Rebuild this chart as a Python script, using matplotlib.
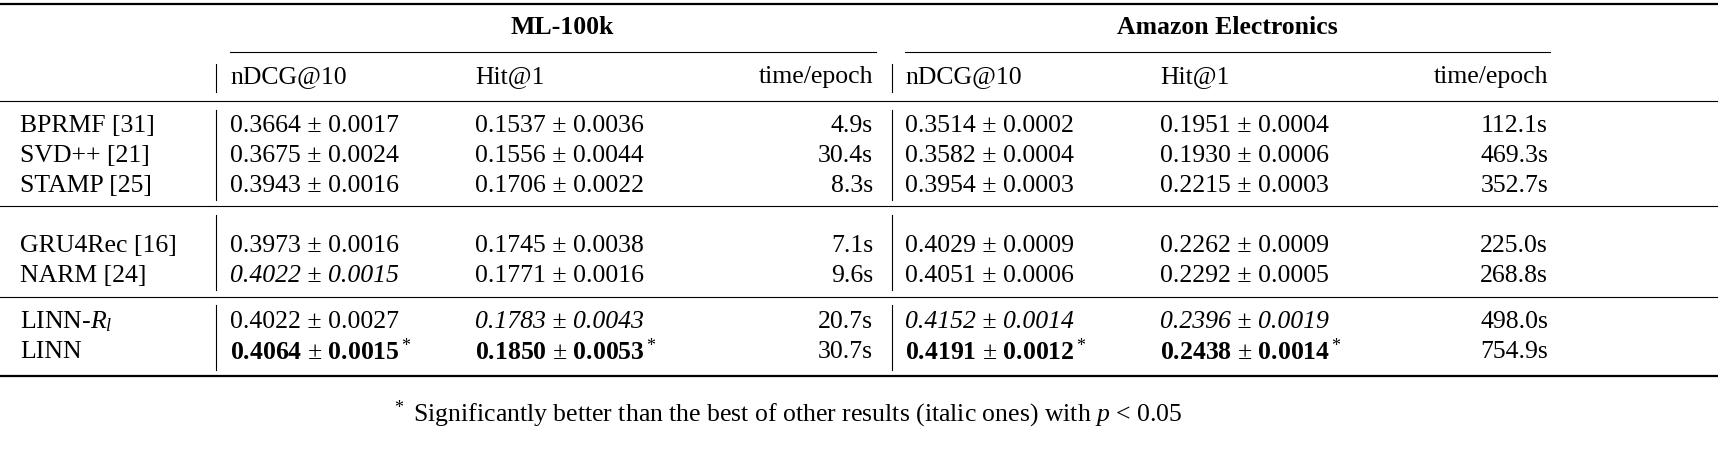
import matplotlib.pyplot as plt

plt.rcParams['font.family'] = 'Liberation Serif'
plt.rcParams['mathtext.fontset'] = 'custom'
plt.rcParams['mathtext.rm'] = 'Liberation Serif'
plt.rcParams['mathtext.it'] = 'Liberation Serif:italic'
plt.rcParams['mathtext.bf'] = 'Liberation Serif:bold'

methods = ["BPRMF [31]", "SVD++ [21]", "STAMP [25]", "GRU4Rec [16]", "NARM [24]",
           "LINN-$R_l$", "LINN"]
ml_ndcg = ["0.3664", "0.3675", "0.3943", "0.3973", "0.4022", "0.4022", "0.4064"]
ml_ndcg_sd = ["0.0017", "0.0024", "0.0016", "0.0016", "0.0015", "0.0027", "0.0015"]
ml_hit = ["0.1537", "0.1556", "0.1706", "0.1745", "0.1771", "0.1783", "0.1850"]
ml_hit_sd = ["0.0036", "0.0044", "0.0022", "0.0038", "0.0016", "0.0043", "0.0053"]
ml_time = ["4.9s", "30.4s", "8.3s", "7.1s", "9.6s", "20.7s", "30.7s"]
az_ndcg = ["0.3514", "0.3582", "0.3954", "0.4029", "0.4051", "0.4152", "0.4191"]
az_ndcg_sd = ["0.0002", "0.0004", "0.0003", "0.0009", "0.0006", "0.0014", "0.0012"]
az_hit = ["0.1951", "0.1930", "0.2215", "0.2262", "0.2292", "0.2396", "0.2438"]
az_hit_sd = ["0.0004", "0.0006", "0.0003", "0.0009", "0.0005", "0.0019", "0.0014"]
az_time = ["112.1s", "469.3s", "352.7s", "225.0s", "268.8s", "498.0s", "754.9s"]
# style per metric column: n = normal, i = italic (second best), b = best
styles = [
    ["n", "n", "n", "n"], ["n", "n", "n", "n"], ["n", "n", "n", "n"],
    ["n", "n", "n", "n"], ["i", "n", "n", "n"], ["n", "i", "i", "i"],
    ["b", "b", "b", "b"],
]

fig = plt.figure(figsize=(17.18, 4.75), dpi=100)
ax = fig.add_axes([0, 0, 1, 1])
ax.set_xlim(0, 1718)
ax.set_ylim(475, 0)
ax.axis("off")
fs = 18.5


def cell(x, y, v, sd, st):
    if st == "i":
        ax.text(x, y, f"{v} ± {sd}", fontsize=fs, style="italic", va="center")
    elif st == "b":
        ax.text(x, y, rf"$\mathbf{{{v}}}$ ± $\mathbf{{{sd}}}^*$", fontsize=fs, va="center")
    else:
        ax.text(x, y, f"{v} ± {sd}", fontsize=fs, va="center")


# rules
ax.plot([0, 1718], [4, 4], color="black", lw=1.6)
ax.plot([230, 876], [52, 52], color="black", lw=0.8)
ax.plot([905, 1550], [52, 52], color="black", lw=0.8)
for y in [101, 206, 297]:
    ax.plot([0, 1718], [y, y], color="black", lw=0.8)
ax.plot([0, 1718], [376, 376], color="black", lw=1.6)

ax.text(562, 28, "ML-100k", fontsize=fs, weight="bold", ha="center", va="center")
ax.text(1227, 28, "Amazon Electronics", fontsize=fs, weight="bold", ha="center", va="center")

hy = 77
for bx in [216, 892]:
    ax.plot([bx, bx], [64, 92], color="black", lw=0.8)
ax.text(230, hy, "nDCG@10", fontsize=fs, va="center")
ax.text(475, hy, "Hit@1", fontsize=fs, va="center")
ax.text(873, hy, "time/epoch", fontsize=fs, va="center", ha="right")
ax.text(905, hy, "nDCG@10", fontsize=fs, va="center")
ax.text(1160, hy, "Hit@1", fontsize=fs, va="center")
ax.text(1548, hy, "time/epoch", fontsize=fs, va="center", ha="right")

row_y = [126, 156, 186, 246, 276, 322, 352]
for span in [(110, 200), (215, 290), (305, 370)]:
    for bx in [216, 892]:
        ax.plot([bx, bx], span, color="black", lw=0.8)

for i, y in enumerate(row_y):
    ax.text(20, y, methods[i], fontsize=fs, va="center")
    st = styles[i]
    cell(230, y, ml_ndcg[i], ml_ndcg_sd[i], st[0])
    cell(475, y, ml_hit[i], ml_hit_sd[i], st[1])
    ax.text(873, y, ml_time[i], fontsize=fs, va="center", ha="right")
    cell(905, y, az_ndcg[i], az_ndcg_sd[i], st[2])
    cell(1160, y, az_hit[i], az_hit_sd[i], st[3])
    ax.text(1548, y, az_time[i], fontsize=fs, va="center", ha="right")

ax.text(787, 414, r"$^*$ Significantly better than the best of other results (italic ones) with $p$ < 0.05",
        fontsize=fs, ha="center", va="center")

fig.savefig("out.png", dpi=100)
